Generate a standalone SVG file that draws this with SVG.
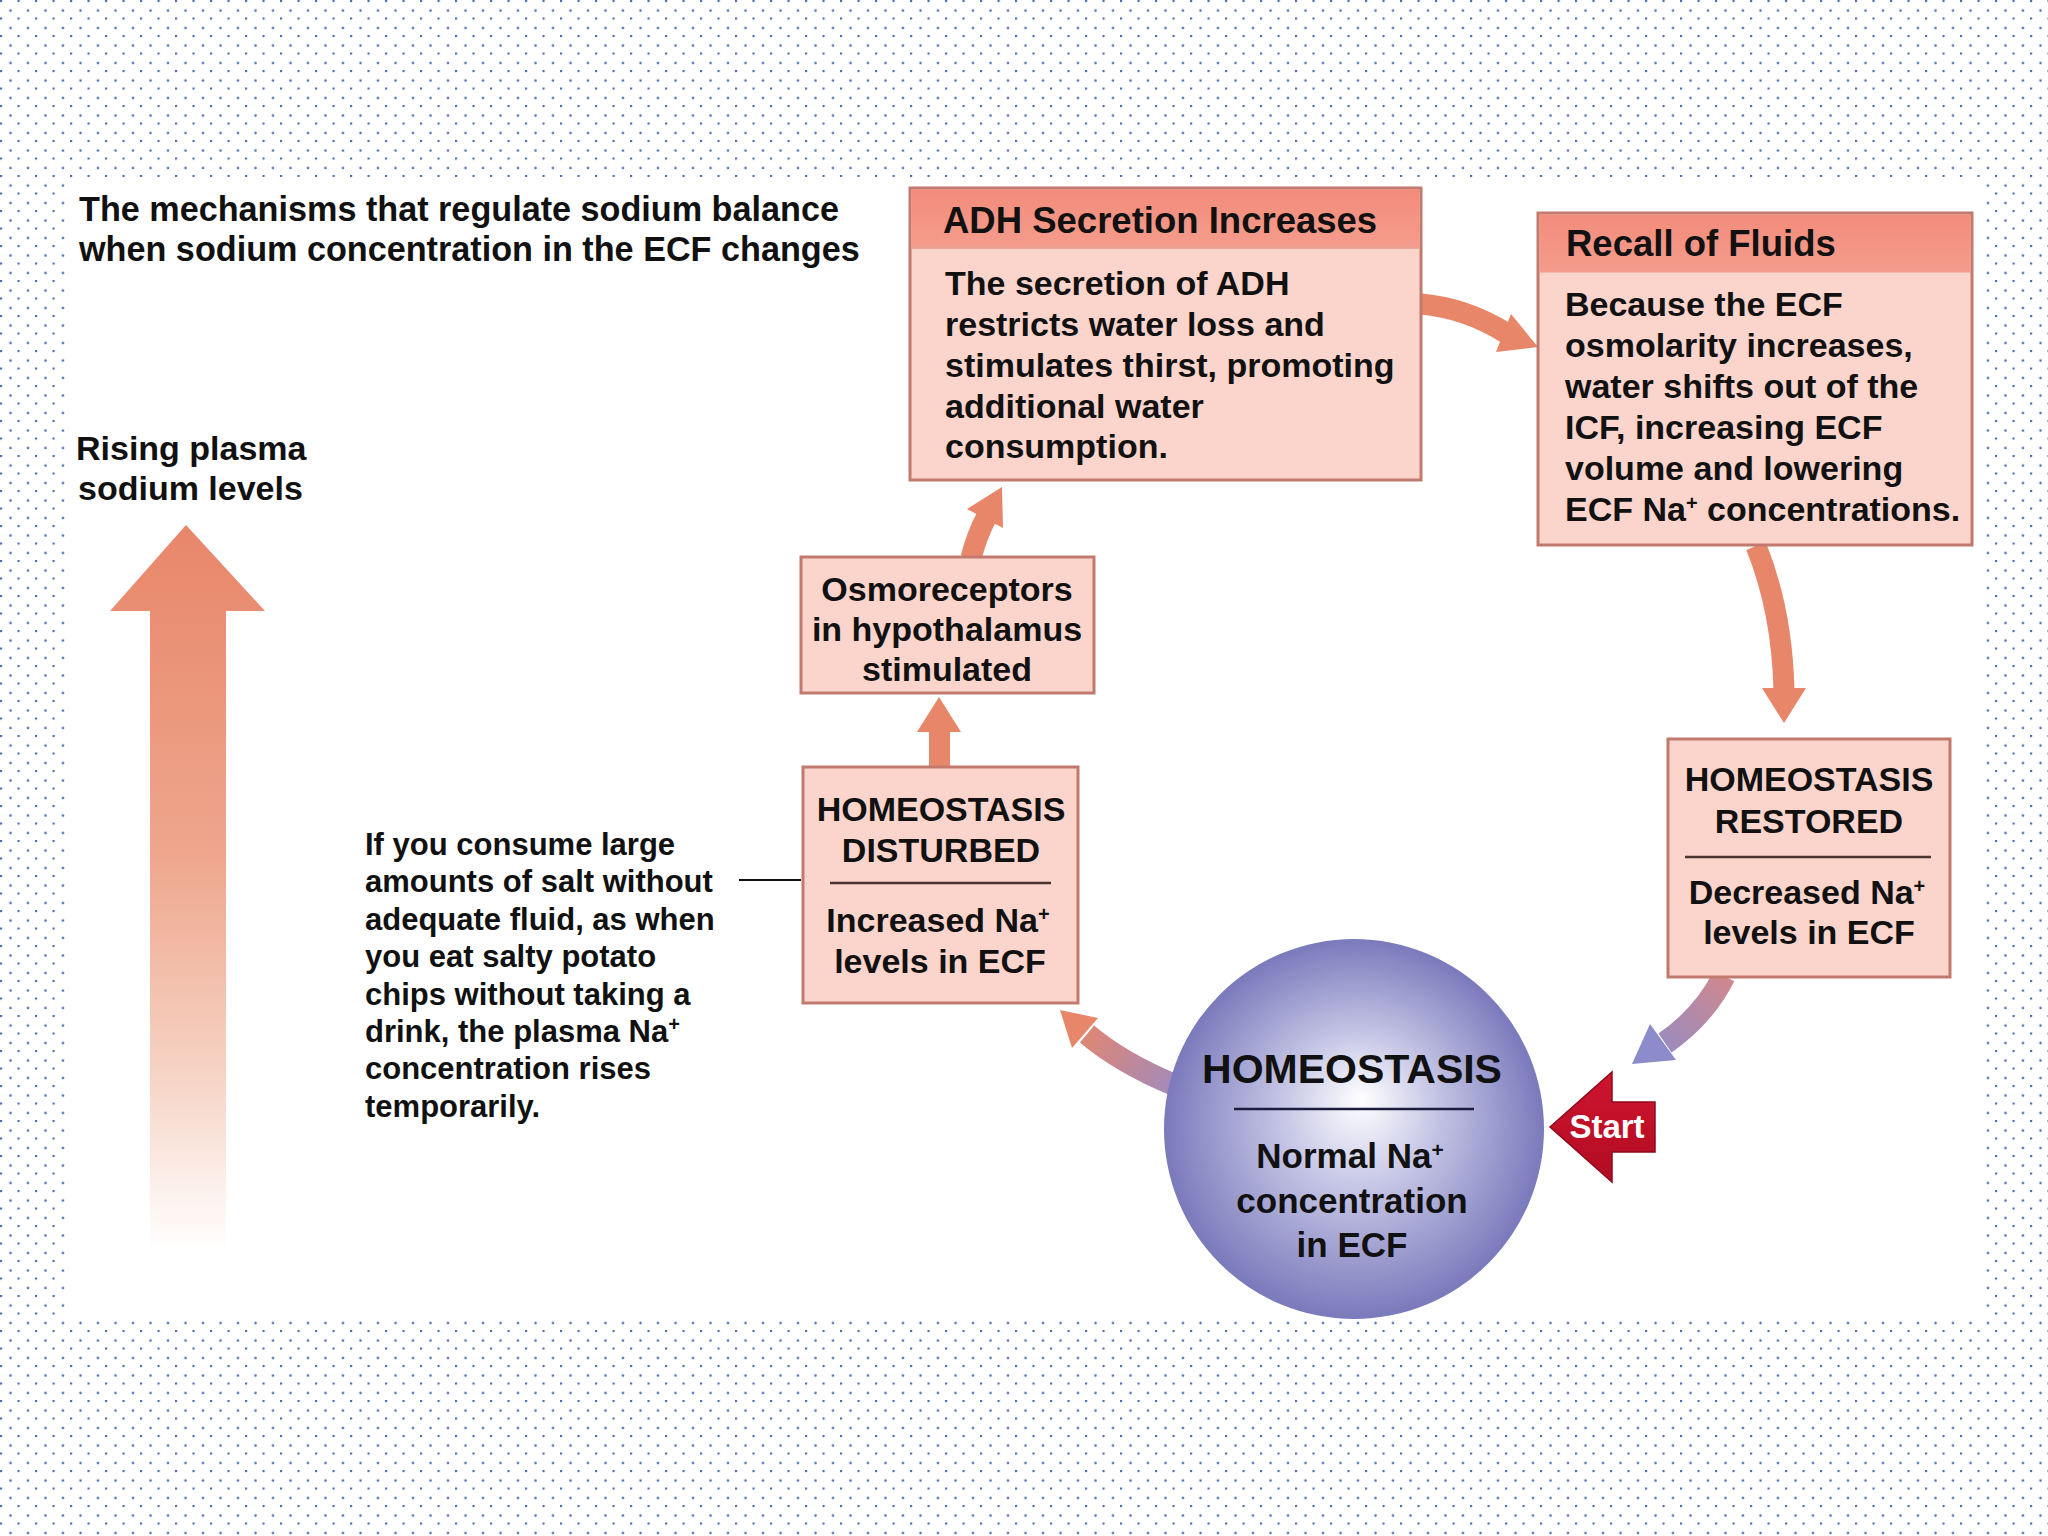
<svg xmlns="http://www.w3.org/2000/svg" width="2048" height="1536" viewBox="0 0 2048 1536">
<defs>
<pattern id="dots" x="0" y="0" width="17.5" height="17.5" patternUnits="userSpaceOnUse">
<circle cx="1" cy="1" r="1.3" fill="#4a6cb0"/>
<circle cx="10.5" cy="10.5" r="1.3" fill="#4a6cb0"/>
</pattern>
<linearGradient id="bigArrow" x1="0" y1="525" x2="0" y2="1250" gradientUnits="userSpaceOnUse">
<stop offset="0" stop-color="#E8866A"/>
<stop offset="0.45" stop-color="#EEA68C"/>
<stop offset="0.75" stop-color="#F6D2C3"/>
<stop offset="1" stop-color="#FFFFFF"/>
</linearGradient>
<radialGradient id="ball" cx="0.5" cy="0.5" r="0.5" fx="0.52" fy="0.42">
<stop offset="0" stop-color="#FFFFFF"/>
<stop offset="0.4" stop-color="#C6C6E6"/>
<stop offset="1" stop-color="#7A7ABC"/>
</radialGradient>
<linearGradient id="hdr" x1="0" y1="0" x2="0" y2="1">
<stop offset="0" stop-color="#F28C7B"/>
<stop offset="1" stop-color="#F59C8C"/>
</linearGradient>
<linearGradient id="g3" x1="1722" y1="976" x2="1640" y2="1058" gradientUnits="userSpaceOnUse">
<stop offset="0" stop-color="#CE8890"/>
<stop offset="1" stop-color="#8C8CCB"/>
</linearGradient>
<linearGradient id="g4" x1="1172" y1="1084" x2="1075" y2="1020" gradientUnits="userSpaceOnUse">
<stop offset="0" stop-color="#A58AB8"/>
<stop offset="1" stop-color="#E8866A"/>
</linearGradient>
<linearGradient id="startG" x1="0" y1="1072" x2="0" y2="1182" gradientUnits="userSpaceOnUse">
<stop offset="0" stop-color="#D0142E"/>
<stop offset="1" stop-color="#B00C22"/>
</linearGradient>
</defs>
<style>
text{font-family:"Liberation Sans",Arial,sans-serif;font-weight:bold;fill:#111;}
.title{font-size:34.2px;}
.hdr{font-size:36.5px;}
.body{font-size:34px;}
.note{font-size:31px;}
.c{text-anchor:middle;}
.box{fill:#FBD4CC;stroke:#C27A6E;stroke-width:3;}
.hband{fill:url(#hdr);}
.sep{stroke:#4a3432;stroke-width:2.5;}
.shaft{fill:none;stroke:#E8866A;stroke-width:21;}
.head{fill:#E8866A;}
.sup{font-size:20px;}
</style>
<rect x="0" y="0" width="2048" height="1536" fill="#FFFFFF"/>
<rect x="0" y="0" width="2048" height="1536" fill="url(#dots)"/>
<rect x="65" y="177" width="1920" height="1141" fill="#FFFFFF"/>

<g id="title">
<text class="title" x="79" y="221">The mechanisms that regulate sodium balance</text>
<text class="title" x="79" y="261">when sodium concentration in the ECF changes</text>
</g>

<g id="rising">
<text class="body" x="76" y="460">Rising plasma</text>
<text class="body" x="78" y="500">sodium levels</text>
<polygon points="186,525 265,611 226,611 226,1250 150,1250 150,611 110,611" fill="url(#bigArrow)"/>
</g>

<g id="note">
<text class="note" x="365" y="855">If you consume large</text>
<text class="note" x="365" y="892">amounts of salt without</text>
<text class="note" x="365" y="930">adequate fluid, as when</text>
<text class="note" x="365" y="967">you eat salty potato</text>
<text class="note" x="365" y="1005">chips without taking a</text>
<text class="note" x="365" y="1042">drink, the plasma Na<tspan class="sup" baseline-shift="super">+</tspan></text>
<text class="note" x="365" y="1079">concentration rises</text>
<text class="note" x="365" y="1117">temporarily.</text>
<line x1="739" y1="880" x2="801" y2="880" stroke="#111" stroke-width="2"/>
</g>

<g id="connectors">
<path class="shaft" d="M1421,304 Q1466,308 1506,333"/>
<polygon class="head" points="1538,347 1511,314 1496,352"/>
<path class="shaft" d="M1756,546 Q1782,610 1784,690"/>
<polygon class="head" points="1784,723 1762,688 1806,688"/>
<path d="M1724,976 Q1704,1016 1665,1043" fill="none" stroke="url(#g3)" stroke-width="23"/>
<polygon points="1632,1064 1650,1024 1676,1060" fill="#8C8CCB"/>
<path d="M1172,1084 Q1120,1062 1087,1034" fill="none" stroke="url(#g4)" stroke-width="22"/>
<polygon class="head" points="1060,1010 1072,1048 1098,1018"/>
<rect x="929" y="730" width="21" height="38" fill="#E8866A"/>
<polygon class="head" points="939,697 917,732 961,732"/>
<path class="shaft" d="M971,558 Q977,535 986,518"/>
<polygon class="head" points="1002,487 967,509 1003,528"/>
</g>

<g id="adh">
<rect class="box" x="910" y="188" width="511" height="292"/>
<rect class="hband" x="911.5" y="189.5" width="508" height="58"/>
<line x1="911.5" y1="248" x2="1419.5" y2="248" stroke="#E79A8B" stroke-width="1.5"/>
<text class="hdr" x="943" y="233">ADH Secretion Increases</text>
<text class="body" x="945" y="295">The secretion of ADH</text>
<text class="body" x="945" y="336">restricts water loss and</text>
<text class="body" x="945" y="377">stimulates thirst, promoting</text>
<text class="body" x="945" y="418">additional water</text>
<text class="body" x="945" y="458">consumption.</text>
</g>

<g id="recall">
<rect class="box" x="1538" y="213" width="434" height="332"/>
<rect class="hband" x="1539.5" y="214.5" width="431" height="58"/>
<text class="hdr" x="1566" y="256">Recall of Fluids</text>
<text class="body" x="1565" y="316">Because the ECF</text>
<text class="body" x="1565" y="357">osmolarity increases,</text>
<text class="body" x="1565" y="398">water shifts out of the</text>
<text class="body" x="1565" y="439">ICF, increasing ECF</text>
<text class="body" x="1565" y="480">volume and lowering</text>
<text class="body" x="1565" y="521">ECF Na<tspan class="sup" baseline-shift="super">+</tspan> concentrations.</text>
</g>

<g id="osmo">
<rect class="box" x="801" y="557" width="293" height="136"/>
<text class="body c" x="947" y="601">Osmoreceptors</text>
<text class="body c" x="947" y="641">in hypothalamus</text>
<text class="body c" x="947" y="681">stimulated</text>
</g>

<g id="disturbed">
<rect class="box" x="803" y="767" width="275" height="236"/>
<text class="body c" x="941" y="821">HOMEOSTASIS</text>
<text class="body c" x="941" y="862">DISTURBED</text>
<line class="sep" x1="830" y1="883" x2="1051" y2="883"/>
<text class="body c" x="938" y="932">Increased Na<tspan class="sup" baseline-shift="super">+</tspan></text>
<text class="body c" x="940" y="973">levels in ECF</text>
</g>

<g id="restored">
<rect class="box" x="1668" y="739" width="282" height="238"/>
<text class="body c" x="1809" y="791">HOMEOSTASIS</text>
<text class="body c" x="1809" y="833">RESTORED</text>
<line class="sep" x1="1685" y1="857" x2="1931" y2="857"/>
<text class="body c" x="1807" y="904">Decreased Na<tspan class="sup" baseline-shift="super">+</tspan></text>
<text class="body c" x="1809" y="944">levels in ECF</text>
</g>

<g id="homeostasis">
<circle cx="1354" cy="1129" r="190" fill="url(#ball)"/>
<text class="c" x="1352" y="1083" font-size="41">HOMEOSTASIS</text>
<line x1="1234" y1="1109" x2="1474" y2="1109" stroke="#1c1c3e" stroke-width="2.5"/>
<text class="c" x="1350" y="1168" font-size="35">Normal Na<tspan font-size="21" baseline-shift="super">+</tspan></text>
<text class="c" x="1352" y="1213" font-size="35">concentration</text>
<text class="c" x="1352" y="1257" font-size="35">in ECF</text>
</g>

<g id="start">
<polygon points="1550,1127 1612,1072 1612,1102 1655,1102 1655,1152 1612,1152 1612,1182" fill="url(#startG)" stroke="#8E0A1C" stroke-width="1.5"/>
<text x="1607" y="1138" font-size="33" text-anchor="middle" style="fill:#FFFFFF">Start</text>
</g>
</svg>
